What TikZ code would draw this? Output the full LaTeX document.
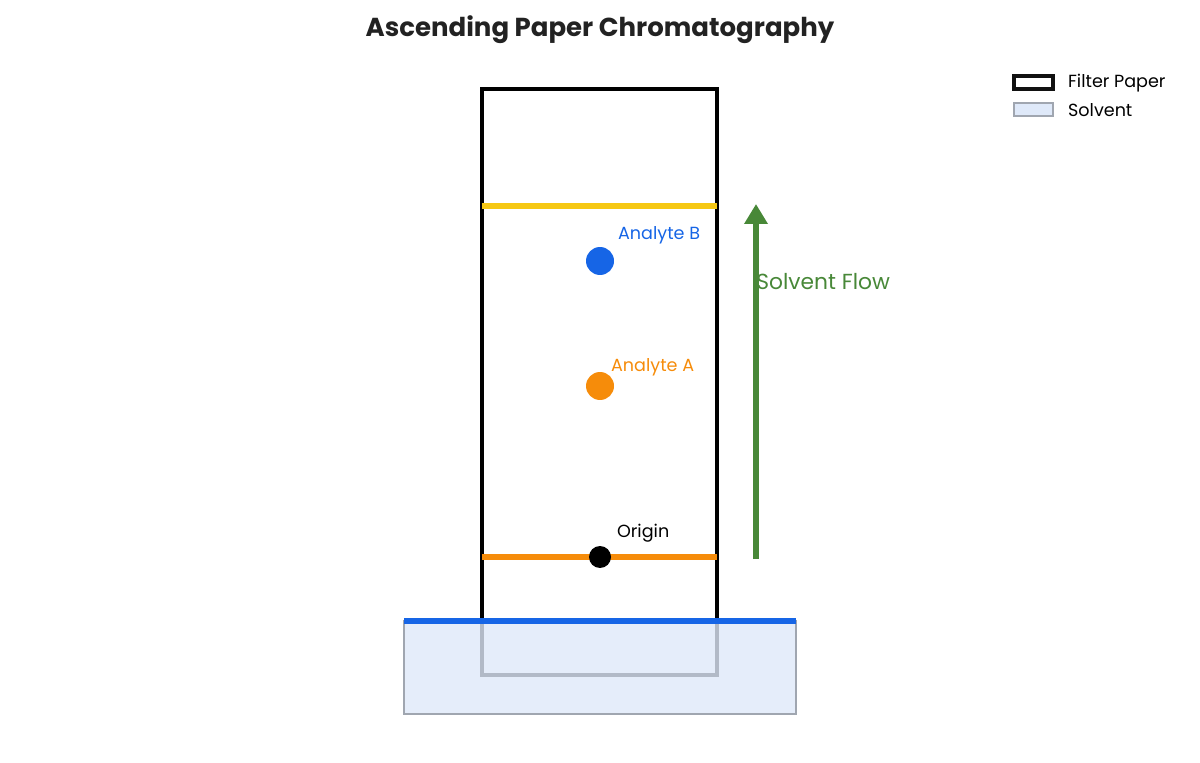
\documentclass[tikz,border=0pt]{standalone}
\usepackage{fontspec}
\setmainfont{Poppins}
\usetikzlibrary{positioning, arrows.meta}
\begin{document}
\begin{tikzpicture}[x=0.02cm, y=-0.02cm,
spot/.style={circle, inner sep=0pt, minimum size=#1},
lbl/.style={font=\fontsize{10}{12}\selectfont, inner sep=1pt},
arrow/.style={line width=3pt, -{Triangle[length=4mm, width=4.5mm]}} ]

% Define colors
\definecolor{paperblack}{RGB}{17, 17, 17}
\definecolor{solventfill}{RGB}{223, 233, 249}
\definecolor{solventedge}{RGB}{160, 166, 176}
\definecolor{solventblue}{RGB}{22, 101, 230}
\definecolor{frontyellow}{RGB}{246, 200, 20}
\definecolor{originorange}{RGB}{246, 140, 10}
\definecolor{flowgreen}{RGB}{72, 136, 56}
\definecolor{titlegray}{RGB}{34, 34, 34}

\useasboundingbox (0,0) rectangle (1200,763);

% Title
\node[font=\bfseries\fontsize{14.8}{18}\selectfont, text=titlegray] (title) at (600,30) {Ascending Paper Chromatography};

% Paper, then solvent over it
\draw[line width=2.2pt, draw=black] (482,89) rectangle (717,675);
\draw[line width=1.5pt, draw=solventedge, fill=solventfill, fill opacity=0.8] (404,621) rectangle (796,714);
\draw[line width=3pt, solventblue] (404,621) -- (796,621);

% Lines
\draw[line width=3pt, frontyellow] (482,206) -- (717,206);
\draw[line width=3pt, originorange] (482,557) -- (717,557);

% Spots
\node[spot=4.4mm, fill=black] (origin) at (600,557) {};
\node[spot=5.6mm, fill=originorange] (spotA) at (600,386) {};
\node[spot=5.6mm, fill=solventblue] (spotB) at (600,261) {};
\node[lbl, anchor=west] at (615,533) {Origin};
\node[lbl, anchor=west, text=originorange] at (609,367) {Analyte A};
\node[lbl, anchor=west, text=solventblue] at (616,235) {Analyte B};

% Flow arrow
\coordinate (flowstart) at (756,559);
\coordinate (flowend) at (756,204);
\draw[arrow, flowgreen] (flowstart) -- (flowend);
\node[anchor=west, text=flowgreen, font=\fontsize{12.4}{15}\selectfont, inner sep=0pt] (flow) at (756,282) {Solvent Flow};

% Legend
\draw[line width=2.2pt, draw=paperblack] (1014,76) rectangle (1053,89);
\node[lbl, anchor=west] (legpaper) at (1066,83) {Filter Paper};
\draw[line width=1.5pt, draw=solventedge, fill=solventfill] (1014,103) rectangle (1053,116);
\node[lbl, anchor=west] (legsolvent) at (1066,110) {Solvent};
\end{tikzpicture}
\end{document}
